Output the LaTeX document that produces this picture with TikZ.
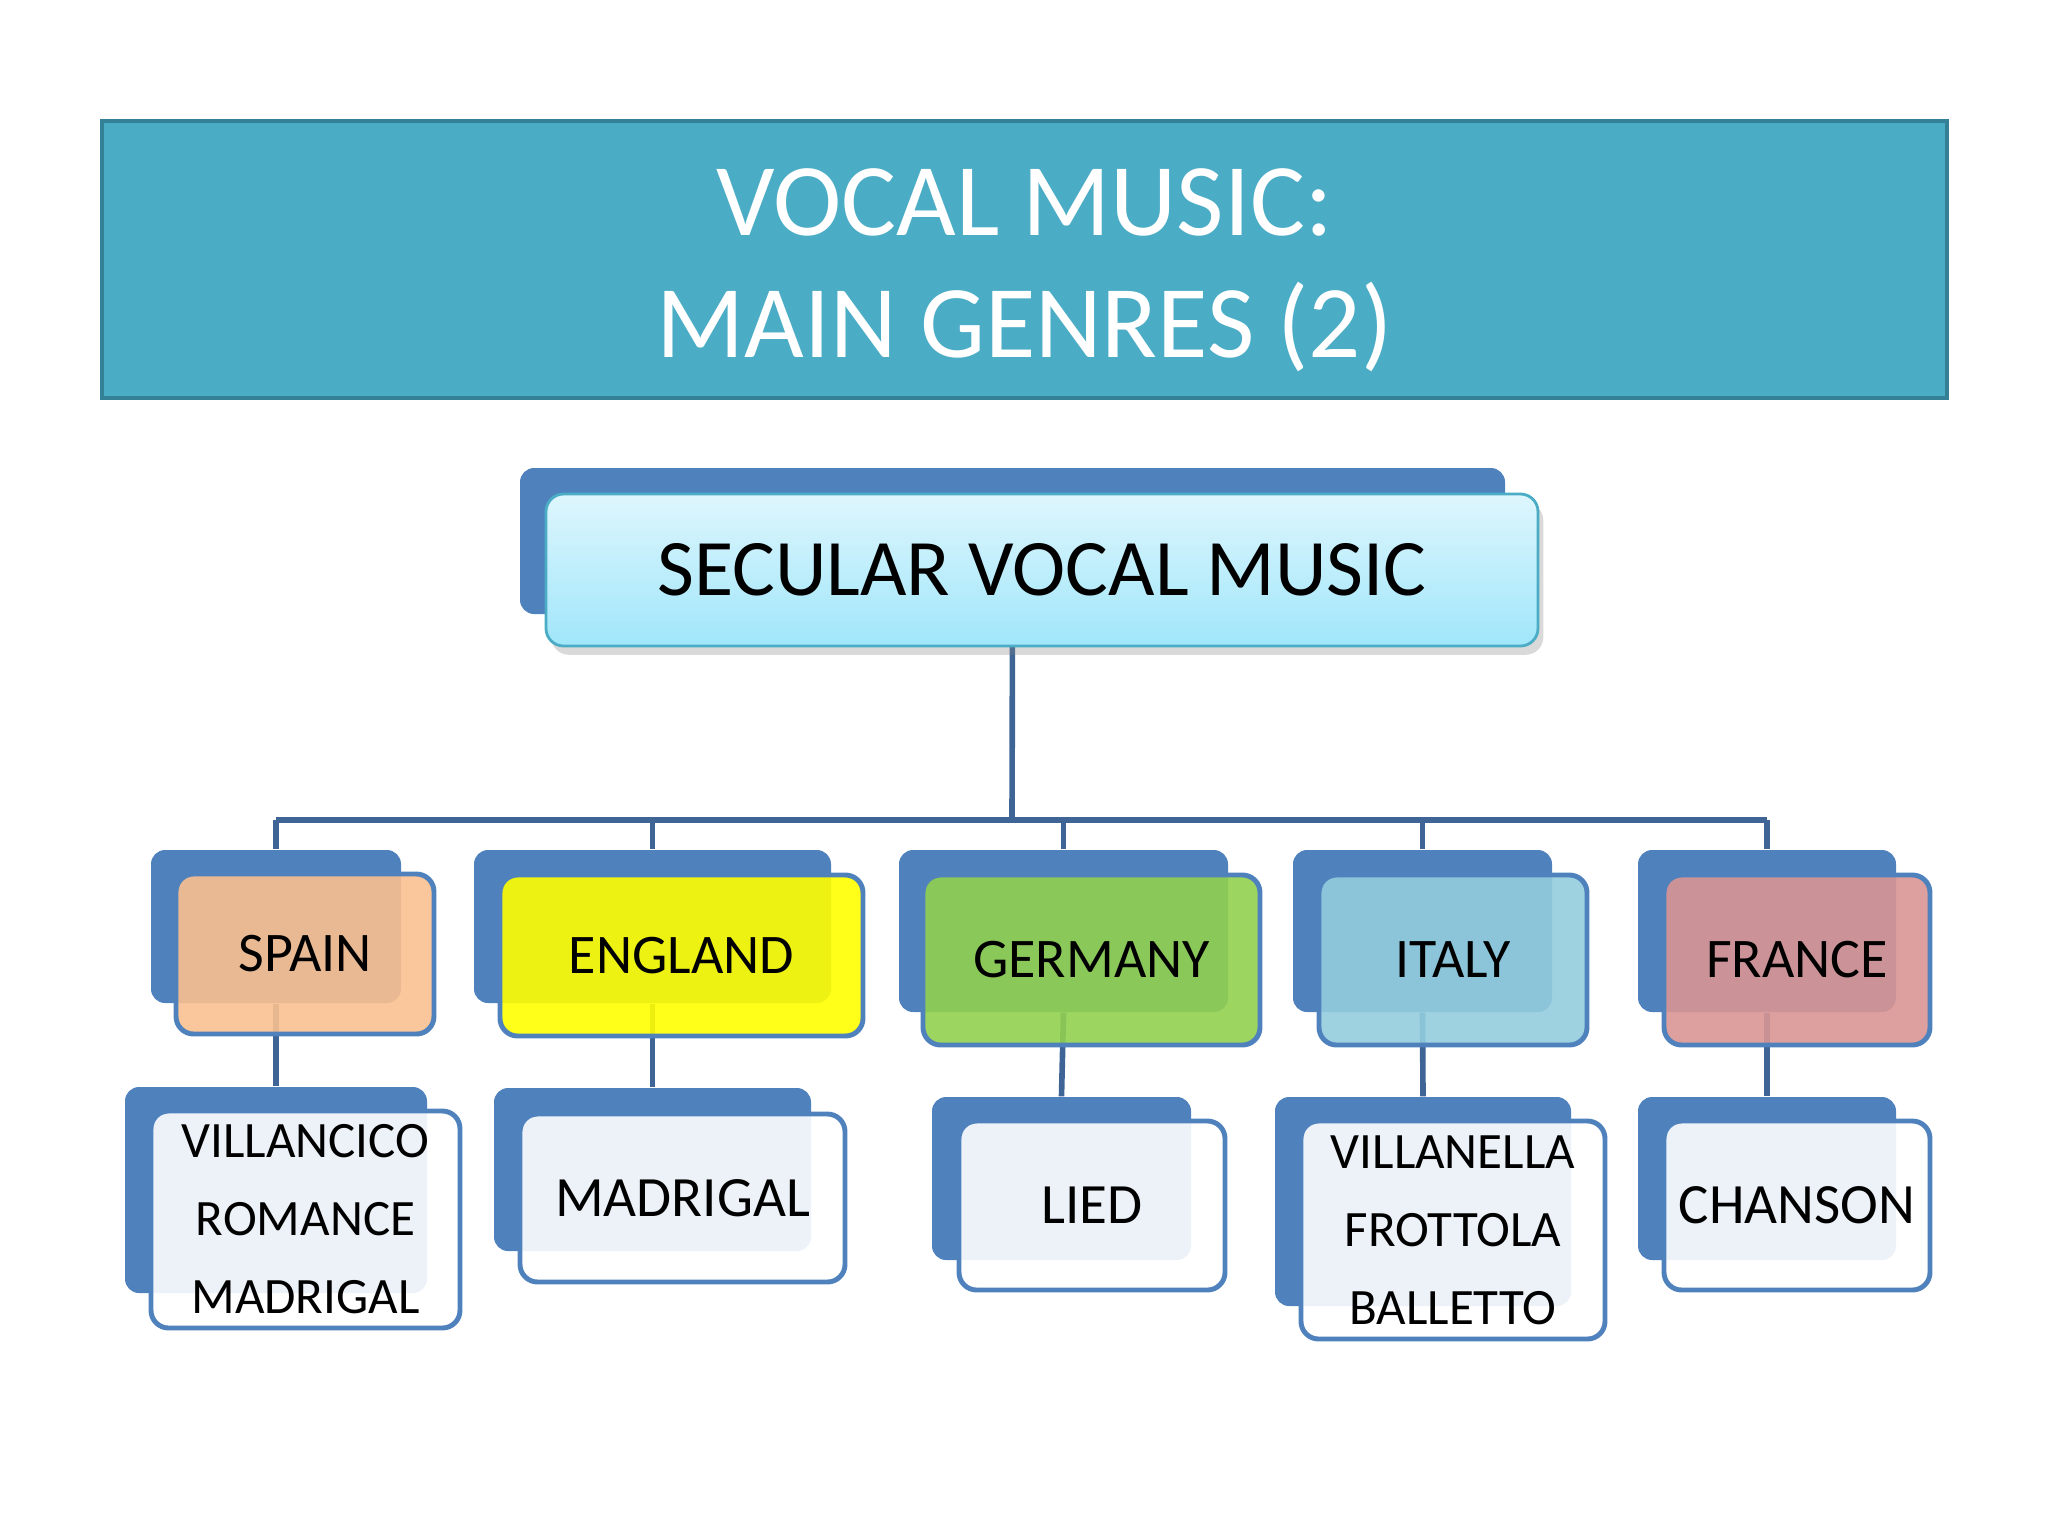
\documentclass[tikz,border=0pt]{standalone}
\usepackage{fontspec}
\setmainfont{Carlito}
\usetikzlibrary{shadows,backgrounds}
\definecolor{banner}{RGB}{75,172,198}
\definecolor{bannerline}{RGB}{52,128,150}
\definecolor{boxblue}{RGB}{79,129,189}
\definecolor{linkblue}{RGB}{62,101,150}
\definecolor{skytop}{RGB}{222,246,253}
\definecolor{skybot}{RGB}{160,230,250}
\definecolor{spainc}{RGB}{250,192,144}
\definecolor{englandc}{RGB}{255,255,0}
\definecolor{germanyc}{RGB}{146,208,80}
\definecolor{italyc}{RGB}{147,205,221}
\definecolor{francec}{RGB}{217,150,148}

\begin{document}
\begin{tikzpicture}[x=0.01cm, y=-0.01cm,
    size/.style args={#1x#2}{minimum width=#1*0.01cm, minimum height=#2*0.01cm},
    back/.style={size=#1, inner sep=0pt, rounded corners=4pt, fill=boxblue},
    front/.style={size=#1, inner sep=0pt, rounded corners=5pt, draw=boxblue,
      line width=1.4pt, fill opacity=0.9, text opacity=1},
    link/.style={draw=linkblue, line width=1.6pt},
    country/.style={font=\fontsize{15.9}{18}\selectfont},
    genre/.style={font=\fontsize{16.2}{20}\selectfont},
    genres/.style={align=center, font=\fontsize{14.5}{22.2}\selectfont}]
  \useasboundingbox (0,0) rectangle (2048,1536);

  \node [size=1845x277, inner sep=0pt, fill=banner, draw=bannerline,
    line width=1.2pt] (title) at (1024.5,259.5) {};
  \node [text=white, font=\fontsize{29.3}{34.7}\selectfont] (title-t) at (1024.5,272.5)
    {\begin{tabular}{@{}c@{}}VOCAL MUSIC:\\MAIN GENRES (2)\end{tabular}};

  \node [back=985x146] (top-b) at (1012.5,541) {};
  \node [size=992x152, inner sep=0pt, rounded corners=5pt,
    draw=banner, line width=0.8pt, top color=skytop, bottom color=skybot,
    drop shadow={shadow xshift=1.5pt, shadow yshift=-2.5pt, opacity=0.3},
    font=\fontsize{22.8}{26}\selectfont] (top) at (1042,570) {SECULAR VOCAL MUSIC};

  % countries
  \node [back=250x153] (spain-b) at (276,926.5) {};
  \node [front=258x160, fill=spainc, country] (spain) at (305,954) {SPAIN};
  \node [back=357x153] (england-b) at (652.5,926.5) {};
  \node [front=363x161, fill=englandc, country] (england) at (681.5,955.5) {ENGLAND};
  \node [back=329x162] (germany-b) at (1063.5,931) {};
  \node [front=337x170, fill=germanyc, country] (germany) at (1091.5,960) {GERMANY};
  \node [back=259x162] (italy-b) at (1422.5,931) {};
  \node [front=268x170, fill=italyc, country] (italy) at (1453,960) {ITALY};
  \node [back=258x162] (france-b) at (1767,931) {};
  \node [front=266x170, fill=francec, country] (france) at (1797,960) {FRANCE};

  % genres
  \node [back=302x206] (spain-kb) at (276,1190) {};
  \node [front=309x217, fill=white, genres] (spain-k) at (305.5,1219.5)
    {VILLANCICO\\ROMANCE\\MADRIGAL};
  \node [back=317x163] (england-kb) at (652.5,1169.5) {};
  \node [front=325x168, fill=white, genre] (england-k) at (682.5,1198) {MADRIGAL};
  \node [back=259x163] (germany-kb) at (1061.5,1178.5) {};
  \node [front=266x169, fill=white, genre] (germany-k) at (1092,1205.5) {LIED};
  \node [back=296x209] (italy-kb) at (1423,1201.5) {};
  \node [front=304x218, fill=white, genres] (italy-k) at (1453,1230)
    {VILLANELLA\\FROTTOLA\\BALLETTO};
  \node [back=258x163] (france-kb) at (1767,1178.5) {};
  \node [front=266x169, fill=white, genre] (france-k) at (1797,1205.5) {CHANSON};

  \begin{pgfonlayer}{background}
    \coordinate (bar) at (1012,820);
    \draw [link] (top-b.south) -- (bar);
    \draw [link] (bar -| spain-b.north) -- (bar -| france-b.north);
    \draw [link] (bar -| spain-b.north) -- (spain-b.north);
    \draw [link] (bar -| england-b.north) -- (england-b.north);
    \draw [link] (bar -| germany-b.north) -- (germany-b.north);
    \draw [link] (bar -| italy-b.north) -- (italy-b.north);
    \draw [link] (bar -| france-b.north) -- (france-b.north);
    \draw [link] (spain-b.south) -- (spain-kb.north);
    \draw [link] (england-b.south) -- (england-kb.north);
    \draw [link] (germany-b.south) -- (germany-kb.north);
    \draw [link] (italy-b.south) -- (italy-kb.north);
    \draw [link] (france-b.south) -- (france-kb.north);
  \end{pgfonlayer}
\end{tikzpicture}
\end{document}
